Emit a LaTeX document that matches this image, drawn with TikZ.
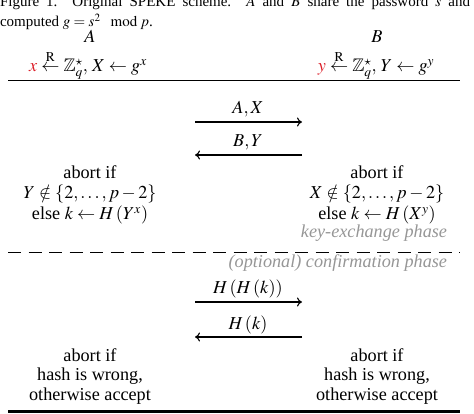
\documentclass[tikz,border=0pt]{standalone}
\usepackage{amsmath}
\usepackage{amssymb}
\usepackage{mathptmx}
\usepackage{fontspec}
\setmainfont{Liberation Serif}
\usetikzlibrary{arrows.meta}
\definecolor{phasegray}{RGB}{150,150,150}
\definecolor{pwred}{RGB}{220,30,40}
\begin{document}
\begin{tikzpicture}[x=1pt,y=1pt,
  every node/.style={inner sep=0pt,outer sep=0pt},
  body/.style={anchor=base,font=\fontsize{18.2}{20.5}\selectfont},
  capt/.style={anchor=base west,font=\fontsize{15}{20}\selectfont},
  phase/.style={anchor=base east,text=phasegray,font=\fontsize{18.2}{20.5}\selectfont\itshape},
  msg/.style={line width=1.1pt,-{To[length=5pt,width=9pt]}},
  rule/.style={line width=1.3pt},
  thickrule/.style={line width=3pt},
  phaseline/.style={line width=1.4pt,dash pattern=on 13pt off 7.5pt}]
\useasboundingbox (0,0) rectangle (474,-414);
% caption
\node[capt] (cap1) at (0,-7) {\makebox[470pt][s]{Figure 1.\quad Original SPEKE scheme. $A$ and $B$ share the password $s$ and}};
\node[capt] (cap2) at (0,-27) {computed $g=s^{2}\mod p$.};
% parties
\node[body] (A) at (90,-43) {$A$};
\node[body] (B) at (377,-43) {$B$};
\node[body] (ainit) at (88,-72) {$\textcolor{pwred}{x}\stackrel{\mathrm{R}}{\leftarrow}\mathbb{Z}_q^{\star},\,X\leftarrow g^{x}$};
\node[body] (binit) at (376,-72) {$\textcolor{pwred}{y}\stackrel{\mathrm{R}}{\leftarrow}\mathbb{Z}_q^{\star},\,Y\leftarrow g^{y}$};
\coordinate (r1l) at (8,-80.5);
\coordinate (r1r) at (460,-80.5);
\draw[rule] (r1l) -- (r1r);
% key exchange messages
\node[body] (m1) at (248,-114) {$A,X$};
\coordinate (m1s) at (195,-122);
\coordinate (m1e) at (302,-122);
\draw[msg] (m1s) -- (m1e);
\node[body] (m2) at (248,-147) {$B,Y$};
\coordinate (m2s) at (302,-155);
\coordinate (m2e) at (195,-155);
\draw[msg] (m2s) -- (m2e);
% checks
\node[body] (la1) at (90,-179) {abort if};
\node[body] (la2) at (90,-199) {$Y\notin\{2,\ldots,p-2\}$};
\node[body] (la3) at (90,-220) {else $k\leftarrow H\left(Y^{x}\right)$};
\node[body] (ra1) at (377,-179) {abort if};
\node[body] (ra2) at (377,-199) {$X\notin\{2,\ldots,p-2\}$};
\node[body] (ra3) at (377,-220) {else $k\leftarrow H\left(X^{y}\right)$};
% phase separator
\node[phase] (ph1) at (447,-238) {key-exchange phase};
\coordinate (dl) at (8,-252.5);
\coordinate (dr) at (460,-252.5);
\draw[phaseline] (dl) -- (dr);
\node[phase] (ph2) at (447,-268) {(optional) confirmation phase};
% confirmation messages
\node[body] (m3) at (248,-293) {$H\left(H\left(k\right)\right)$};
\coordinate (m3s) at (195,-302);
\coordinate (m3e) at (302,-302);
\draw[msg] (m3s) -- (m3e);
\node[body] (m4) at (248,-329) {$H\left(k\right)$};
\coordinate (m4s) at (302,-337);
\coordinate (m4e) at (195,-337);
\draw[msg] (m4s) -- (m4e);
% final checks
\node[body] (lb1) at (90,-361) {abort if};
\node[body] (lb2) at (90,-380) {hash is wrong,};
\node[body] (lb3) at (90,-400) {otherwise accept};
\node[body] (rb1) at (377,-361) {abort if};
\node[body] (rb2) at (377,-380) {hash is wrong,};
\node[body] (rb3) at (377,-400) {otherwise accept};
\coordinate (r2l) at (8,-411.5);
\coordinate (r2r) at (460,-411.5);
\draw[thickrule] (r2l) -- (r2r);
\end{tikzpicture}
\end{document}
